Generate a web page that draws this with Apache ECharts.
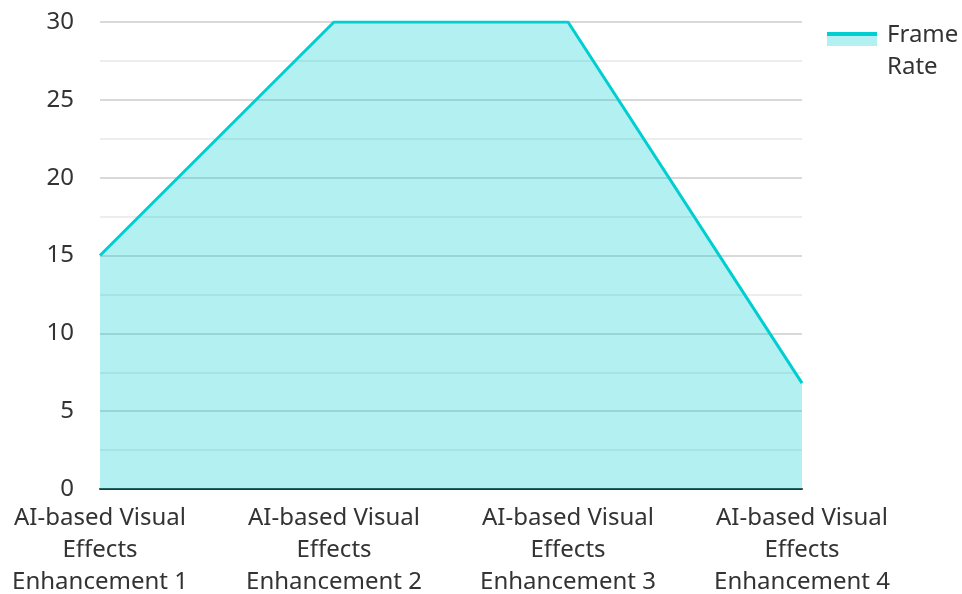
<!DOCTYPE html>
<html>
<head>
<meta charset="utf-8">
<script src="https://cdn.jsdelivr.net/npm/echarts@6/dist/echarts.min.js"></script>
<style>
  html, body { margin: 0; padding: 0; background: #fff; }
  #chart { width: 962px; height: 594px; }
</style>
</head>
<body>
<div id="chart"></div>
<script>
// Frame rate across the AI-based visual effects enhancements
const categories = [
  'AI-based Visual\nEffects\nEnhancement 1',
  'AI-based Visual\nEffects\nEnhancement 2',
  'AI-based Visual\nEffects\nEnhancement 3',
  'AI-based Visual\nEffects\nEnhancement 4'
];
const frameRate = [15, 30, 30, 6.8];
const seriesName = 'Frame Rate';

const FONT = '"Noto Sans", "Open Sans", sans-serif';
const TEXT = '#333333';
const TEAL = '#00CED1';
const TEAL_FILL = 'rgba(0, 206, 209, 0.3)';

// Legend swatch: a teal stripe over the light area fill, kept in the top part of the box
const legendSwatch = {
  type: 'linear', x: 0, y: 0, x2: 0, y2: 1,
  colorStops: [
    { offset: 0, color: TEAL },
    { offset: 0.105, color: TEAL },
    { offset: 0.105, color: TEAL_FILL },
    { offset: 0.38, color: TEAL_FILL },
    { offset: 0.38, color: 'rgba(255,255,255,0)' },
    { offset: 1, color: 'rgba(255,255,255,0)' }
  ]
};

const chart = echarts.init(document.getElementById('chart'));
chart.setOption({
  animation: false,
  textStyle: { fontFamily: FONT },
  grid: { left: 100, right: 160, top: 22, bottom: 105, containLabel: false, outerBoundsMode: 'none' },
  legend: {
    left: 822,
    top: 14,
    orient: 'vertical',
    icon: 'rect',
    itemWidth: 50,
    itemHeight: 38,
    itemStyle: { color: legendSwatch, borderWidth: 0 },
    textStyle: { fontFamily: FONT, fontSize: 24, color: TEXT, width: 80, overflow: 'break', lineHeight: 32, padding: [0, 0, 0, 5] },
    data: [seriesName]
  },
  xAxis: {
    type: 'category',
    boundaryGap: false,
    data: categories,
    axisLine: { lineStyle: { color: '#333333', width: 2 } },
    axisTick: { show: false },
    axisLabel: { color: TEXT, fontSize: 24, lineHeight: 32, margin: 13, interval: 0 }
  },
  yAxis: {
    type: 'value',
    min: 0,
    max: 30,
    interval: 5,
    axisLine: { show: false },
    axisTick: { show: false },
    axisLabel: { color: TEXT, fontSize: 24, margin: 26 },
    splitLine: { lineStyle: { color: '#cccccc', width: 1.5 } },
    minorTick: { show: false, splitNumber: 2 },
    minorSplitLine: { show: true, lineStyle: { color: '#e8e8e8', width: 1.5 } }
  },
  series: [{
    name: seriesName,
    type: 'line',
    data: frameRate,
    symbol: 'none',
    lineStyle: { color: TEAL, width: 3 },
    itemStyle: { color: TEAL },
    areaStyle: { color: TEAL, opacity: 0.3 }
  }]
});
</script>
</body>
</html>
